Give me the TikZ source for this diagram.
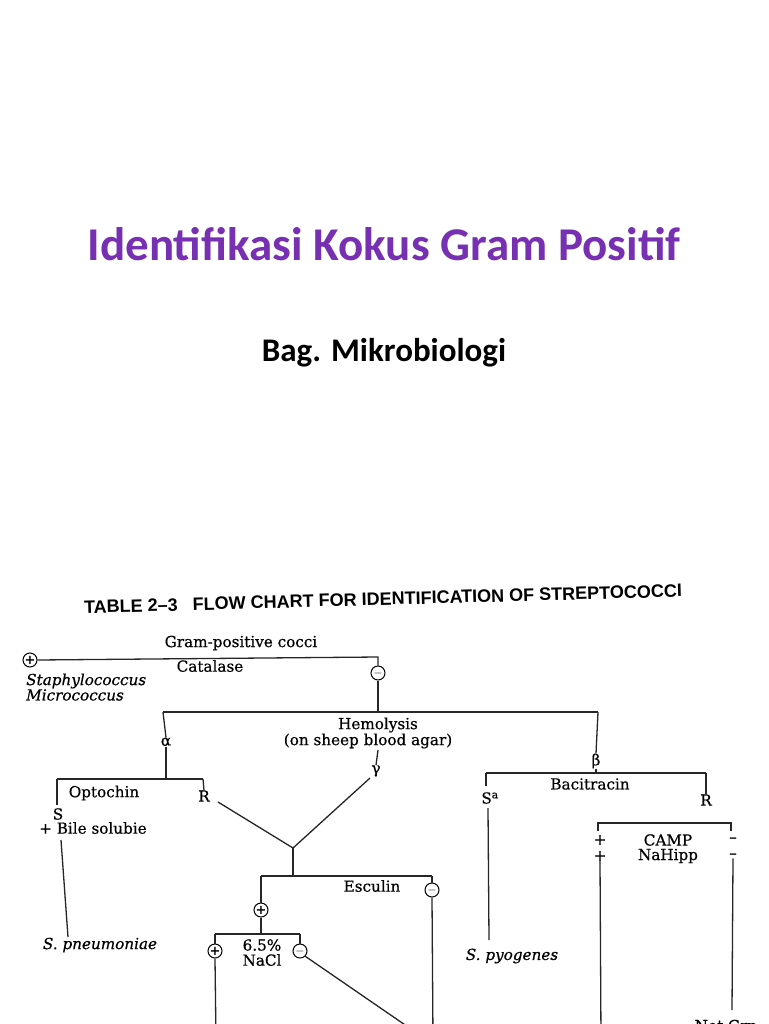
\documentclass[tikz,border=0pt]{standalone}
\usepackage{fontspec}
\setmainfont{DejaVu Serif}
\newfontfamily\scanfont[FakeBold=0.5]{DejaVu Serif}
\newfontfamily\slidefont{Carlito}
\newfontfamily\tablefont{Liberation Sans}
\usetikzlibrary{calc}
\definecolor{slidepurple}{RGB}{119,48,178}
\tikzset{
  chartline/.style = {line width=1.3pt, black!85},
  sign/.style      = {draw, circle, line width=1pt, inner sep=0pt,
                      minimum size=14pt, font=\fontsize{13}{13}\selectfont\bfseries},
  txt/.style       = {inner sep=0pt, font=\scanfont\fontsize{15.2}{16}\selectfont},
  species/.style   = {inner sep=0pt, font=\scanfont\fontsize{15.2}{16}\selectfont\itshape},
}

\begin{document}
\begin{tikzpicture}[x=1pt, y=-1pt]

    \useasboundingbox (0,0) rectangle (768,1024);
    \fill[white] (0,0) rectangle (768,1024);
    \clip (0,0) rectangle (768,1024);

    % --- slide heading ------------------------------------------------------
    \node[font=\slidefont\bfseries\fontsize{47}{52}\selectfont, text=slidepurple]
      (title) at (384,244) {Identifikasi Kokus Gram Positif};
    \node[font=\slidefont\bfseries\fontsize{33}{38}\selectfont]
      (subtitle) at (384,353) {Bag. Mikrobiologi};

    % --- table caption ------------------------------------------------------
    \node[font=\tablefont\bfseries\fontsize{18}{20}\selectfont, rotate=1.6]
      (caption) at (383,599)
      {TABLE 2–3\ \ \ FLOW CHART FOR IDENTIFICATION OF STREPTOCOCCI};

    % --- catalase -----------------------------------------------------------
    \node[txt] (gram) at (241,643) {Gram-positive cocci};
    \node[txt] (catalase) at (210,666) {Catalase};
    \node[sign] (catpos) at (30,660) {+};
    \node[sign] (catneg) at (378,673) {$-$};
    \coordinate (catcorner) at (378,657);
    \draw[chartline] (catpos.east) -- (catcorner) -- (catneg.north);
    \node[species, anchor=west] (staph) at (26,681) {Staphylococcus};
    \node[species, anchor=west] (micro) at (26,695) {Micrococcus};

    % --- hemolysis ----------------------------------------------------------
    \coordinate (hemtop) at (378,712);
    \coordinate (hemleft) at (163,712);
    \coordinate (hemright) at (598,712);
    \draw[chartline] (catneg.south) -- (hemtop);
    \draw[chartline] (hemleft) -- (hemright);
    \node[txt] (hemo) at (378,725) {Hemolysis};
    \node[txt] (sheep) at (368,741) {(on sheep blood agar)};

    \node[txt] (alpha) at (166,742) {α};
    \node[txt] (gamma) at (376,771) {γ};
    \node[txt] (beta) at (596,761) {β};
    \coordinate (gammabar) at (378,750);
    \draw[chartline] (hemleft) -- (alpha.north);
    \draw[chartline] (gammabar) -- (gamma.north);
    \draw[chartline] (hemright) -- (beta.north);

    % --- optochin -----------------------------------------------------------
    \coordinate (optoleft) at (57,779);
    \coordinate (optomid) at (166,779);
    \coordinate (optoright) at (203,779);
    \draw[chartline] (alpha.south) -- (optomid);
    \draw[chartline] (optoleft) -- (optoright);
    \node[txt] (opto) at (104,793) {Optochin};
    \node[txt] (optoS) at (58,814) {S};
    \node[txt] (optoR) at (204,796) {R};
    \coordinate (optodrop) at (57,805);
    \draw[chartline] (optoleft) -- (optodrop);
    \draw[chartline] (optoright) -- (optoR.north);
    \node[txt, anchor=west] (bile) at (39,828) {+ Bile solubie};
    \node[species] (pneumo) at (100,945) {S.\ pneumoniae};
    \coordinate (biledrop) at (61,840);
    \coordinate (pneumotop) at (68,937);
    \draw[chartline] (biledrop) -- (pneumotop);

    % --- alpha R and gamma join ---------------------------------------------
    \coordinate (vleft) at (218,802);
    \coordinate (vright) at (370,778);
    \coordinate (vjoin) at (293,848);
    \coordinate (esctop) at (293,876);
    \draw[chartline] (vleft) -- (vjoin) -- (vright);
    \draw[chartline] (vjoin) -- (esctop);

    % --- esculin ------------------------------------------------------------
    \coordinate (escleft) at (261,876);
    \coordinate (escright) at (432,876);
    \draw[chartline] (escleft) -- (escright);
    \node[txt] (esculin) at (372,886) {Esculin};
    \node[sign] (escpos) at (261,910) {+};
    \node[sign] (escneg) at (432,890) {$-$};
    \draw[chartline] (escleft) -- (escpos.north);
    \draw[chartline] (escright) -- (escneg.north);
    \coordinate (escdown) at (433,1040);
    \draw[chartline] (escneg.south) -- (escdown);

    % --- 6.5% NaCl ----------------------------------------------------------
    \coordinate (naclmid) at (261,934);
    \coordinate (naclleft) at (215,934);
    \coordinate (naclright) at (300,934);
    \draw[chartline] (escpos.south) -- (naclmid);
    \draw[chartline] (naclleft) -- (naclright);
    \node[txt] (naclpct) at (262,945) {6.5\%};
    \node[txt] (naclname) at (262,960) {NaCl};
    \node[sign] (naclpos) at (215,951) {+};
    \node[sign] (naclneg) at (300,951) {$-$};
    \draw[chartline] (naclleft) -- (naclpos.north);
    \draw[chartline] (naclright) -- (naclneg.north);
    \coordinate (nacldownpos) at (216,1040);
    \coordinate (nacldownneg) at (427,1040);
    \draw[chartline] (naclpos.south) -- (nacldownpos);
    \draw[chartline] (naclneg.south east) -- (nacldownneg);

    % --- bacitracin ---------------------------------------------------------
    \coordinate (bacitop) at (596,773);
    \coordinate (bacileft) at (486,773);
    \coordinate (baciright) at (706,773);
    \draw[chartline] (beta.south) -- (bacitop);
    \draw[chartline] (bacileft) -- (baciright);
    \node[txt] (baci) at (590,784) {Bacitracin};
    \node[txt] (baciS) at (490,798) {S\textsuperscript{a}};
    \node[txt] (baciR) at (706,800) {R};
    \coordinate (bacitick) at (486,786);
    \draw[chartline] (bacileft) -- (bacitick);
    \draw[chartline] (baciright) -- (baciR.north);
    \node[species] (pyo) at (512,956) {S.\ pyogenes};
    \coordinate (pyodrop) at (488,808);
    \coordinate (pyotop) at (489,940);
    \draw[chartline] (pyodrop) -- (pyotop);

    % --- CAMP / NaHipp ------------------------------------------------------
    \coordinate (campleft) at (598,823);
    \coordinate (campright) at (731,823);
    \coordinate (campleftend) at (598,831);
    \coordinate (camprightend) at (731,831);
    \draw[chartline] (campleftend) -- (campleft) -- (campright) -- (camprightend);
    \node[txt] (camppos) at (600,840) {+};
    \node[txt] (hipppos) at (600,856) {+};
    \node[txt] (camp) at (668,840) {CAMP};
    \node[txt] (hipp) at (668,856) {NaHipp};
    \node[txt] (campneg) at (733,840) {–};
    \node[txt] (hippneg) at (733,856) {–};
    \coordinate (hippdown) at (601,1040);
    \coordinate (notgrptop) at (732,1010);
    \draw[chartline] (hipppos.south) -- (hippdown);
    \draw[chartline] (hippneg.south) -- (notgrptop);
    \node[txt] (notgrp) at (726,1027) {Not Grp};

\end{tikzpicture}
\end{document}
